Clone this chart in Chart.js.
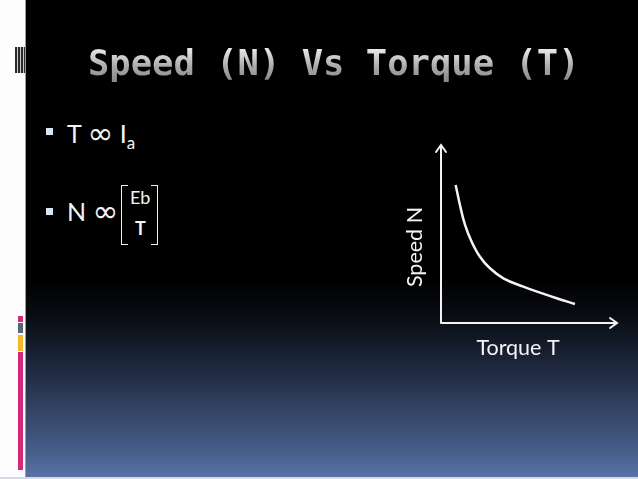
<!DOCTYPE html>
<html>
<head>
<meta charset="utf-8">
<script src="https://cdn.jsdelivr.net/npm/chart.js@4"></script>
<style>
  html, body { margin: 0; padding: 0; background: #ffffff; }
  #page { position: relative; width: 638px; height: 479px; overflow: hidden; background: #fdfdfd; }
  #slide {
    position: absolute; left: 26px; top: 0; width: 612px; height: 477px;
    background: linear-gradient(to bottom, #000 0px, #000 280px, #070a0f 310px, #121926 340px,
      #243049 380px, #384a6c 420px, #465c87 450px, #5673a5 477px);
  }
  #edge { position: absolute; left: 25px; top: 0; width: 1px; height: 479px; background: #9a9a9a; }
  #bottomline { position: absolute; left: 0; top: 477px; width: 638px; height: 2px; background: #d3dae6; }
  #stripes {
    position: absolute; left: 15px; top: 47px; width: 10px; height: 26px;
    background: repeating-linear-gradient(90deg, #2a2a2a 0 2px, #c8c8c8 2px 3px);
  }
  .bar { position: absolute; left: 18px; width: 5px; }
  #title {
    position: absolute; left: 88px; top: 41px; margin: 0;
    font-family: "DejaVu Sans Mono", monospace; font-weight: bold; font-size: 35.5px;
    white-space: pre; line-height: 44px;
    background: linear-gradient(to bottom, #e6e6e6 20%, #a8a8a8 60%, #8a8a8a 90%);
    -webkit-background-clip: text; background-clip: text; color: transparent;
  }
  .bullet { position: absolute; left: 46px; width: 7px; height: 7px; background: #d4e6f8; }
  .txt { position: absolute; color: #f4f4f4; font-family: Lato, "Open Sans", sans-serif; white-space: pre; }
  .inf { font-family: "DejaVu Sans"; font-size: 31px; position: relative; top: 1px; }
  .br { position: absolute; top: 185px; width: 6px; height: 58px; border: 1.5px solid #eeeeee; }
  #chartBox { position: absolute; left: 0; top: 0; width: 638px; height: 479px; }
</style>
</head>
<body>
<div id="page">
  <div id="slide"></div>
  <div id="edge"></div>
  <div id="bottomline"></div>
  <div id="stripes"></div>
  <div class="bar" style="top:316px;height:6px;background:#d6287a"></div>
  <div class="bar" style="top:323px;height:10px;background:#5a6478"></div>
  <div class="bar" style="top:335px;height:16px;background:#f2b928"></div>
  <div class="bar" style="top:352px;height:118px;background:#d6287a"></div>

  <div id="title">Speed (N) Vs Torque (T)</div>

  <div class="bullet" style="top:128px"></div>
  <div class="txt" style="left:67px;top:114px;font-size:25px">T <span class="inf">∞</span> I<span style="font-size:17px;position:relative;top:6px">a</span></div>

  <div class="bullet" style="top:208px"></div>
  <div class="txt" style="left:67px;top:192px;font-size:25px">N <span class="inf">∞</span></div>
  <div class="br" style="left:121px;border-right:none"></div>
  <div class="txt" style="left:130px;top:186px;font-size:18px">Eb</div>
  <div class="txt" style="left:135px;top:217px;font-size:18px;font-weight:bold">T</div>
  <div class="br" style="left:151px;border-left:none"></div>

  <div id="chartBox"><canvas id="speedTorque"></canvas></div>
</div>

<script>
// valores (T em x, N em y)
const torque = [0.95, 1.23, 1.56, 1.99, 2.53, 3.18, 4.05, 5.34, 6.43, 7.51, 8.70];
const speed = [9.08, 7.76, 6.45, 5.35, 4.36, 3.60, 2.94, 2.39, 2.00, 1.63, 1.25];
const axisMin = 0;
const axisMax = 10;
const xTitle = 'Torque T';
const yTitle = 'Speed N';

// eixos com setas, desenhados a partir das escalas
const arrowAxes = {
    id: 'arrowAxes',
    beforeDatasetsDraw(chart) {
        const {ctx, chartArea, scales} = chart;
        const x0 = scales.x.getPixelForValue(axisMin);
        const y0 = scales.y.getPixelForValue(axisMin);
        const top = chartArea.top - 26;
        const right = chartArea.right + 22;
        ctx.save();
        ctx.strokeStyle = '#f2f2f2';
        ctx.lineWidth = 2;
        ctx.lineCap = 'round';
        ctx.beginPath();
        ctx.moveTo(x0, y0);
        ctx.lineTo(x0, top);
        ctx.moveTo(x0 - 5, top + 7);
        ctx.lineTo(x0, top);
        ctx.lineTo(x0 + 5, top + 7);
        ctx.moveTo(x0, y0);
        ctx.lineTo(right, y0);
        ctx.moveTo(right - 7, y0 - 5);
        ctx.lineTo(right, y0);
        ctx.lineTo(right - 7, y0 + 5);
        ctx.stroke();
        ctx.restore();
    }
};

const titleFont = {family: 'Lato', size: 21.5};

new Chart(document.getElementById('speedTorque').getContext('2d'), {
    type: 'line',
    data: {
        datasets: [{
            data: torque.map((t, i) => ({x: t, y: speed[i]})),
            borderColor: '#f4f4f4',
            borderWidth: 2.5,
            pointRadius: 0,
            tension: 0.4,
            fill: false
        }]
    },
    options: {
        responsive: true,
        maintainAspectRatio: false,
        animation: false,
        layout: {padding: {left: 402.1, top: 171, right: 43, bottom: 117.6}},
        plugins: {legend: {display: false}, tooltip: {enabled: false}},
        scales: {
            x: {
                type: 'linear', min: axisMin, max: axisMax,
                grid: {display: false, drawTicks: false},
                border: {display: false},
                ticks: {display: false},
                title: {display: true, text: xTitle, color: '#f4f4f4', font: titleFont, padding: {top: 12.6, bottom: 0}}
            },
            y: {
                type: 'linear', min: axisMin, max: axisMax,
                grid: {display: false, drawTicks: false},
                border: {display: false},
                ticks: {display: false},
                title: {display: true, text: yTitle, color: '#f4f4f4', font: titleFont, padding: {top: 0, bottom: 13.1}}
            }
        }
    },
    plugins: [arrowAxes]
});
</script>
</body>
</html>
